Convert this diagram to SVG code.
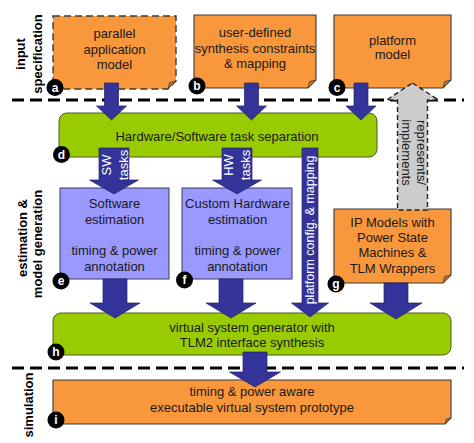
<svg xmlns="http://www.w3.org/2000/svg" width="474" height="443" viewBox="0 0 474 443">
<style>
text{font-family:"Liberation Sans",Arial,sans-serif;}
.t{font-size:13px;fill:#1a1a1a;text-anchor:middle;}
.lane{font-size:13px;font-weight:bold;fill:#000;text-anchor:middle;}
.w{font-size:13px;fill:#fff;text-anchor:middle;}
.g{font-size:13px;fill:#222;text-anchor:middle;}
.or{fill:#F8973B;stroke:#3a3a3a;stroke-width:1.1;}
.fold{fill:#C4752C;stroke:#3a3a3a;stroke-width:0.8;}
.gr{fill:#99CC00;stroke:#4f5a2a;stroke-width:1;}
.lv{fill:#9999FF;stroke:#3a3a5a;stroke-width:1;}
.arr{fill:#333399;stroke:#22226a;stroke-width:0.7;}
.gray{fill:#CCCCCC;stroke:#222;stroke-width:1.4;stroke-dasharray:5 3;}
.sep{stroke:#000;stroke-width:3;stroke-dasharray:12 6;fill:none;}
.c circle{fill:#000;}
.c text{font-size:12px;font-weight:bold;fill:#fff;text-anchor:middle;}
</style>

<!-- separators and lane labels -->
<line class="sep" x1="12" y1="100" x2="464" y2="100"/>
<line class="sep" x1="12" y1="368" x2="464" y2="368"/>
<g transform="rotate(-90)">
<text class="lane" x="-54" y="25">input</text>
<text class="lane" x="-54" y="41.5">specification</text>
<text class="lane" x="-238" y="27">estimation &amp;</text>
<text class="lane" x="-244" y="41.5">model generation</text>
<text class="lane" x="-405" y="33">simulation</text>
</g>

<g id="node-a">
<path d="M53,16 H176 V81 L168,89 H53 Z" fill="#F8973B" stroke="#3a3a3a" stroke-width="1.4" stroke-dasharray="7 4"/>
<path class="fold" d="M176,81 L168,89 L169.6,82.6 Z"/>
<text class="t" x="114.5" y="37.5">parallel</text>
<text class="t" x="114.5" y="53.5">application</text>
<text class="t" x="114.5" y="69">model</text>
<g class="c"><circle cx="55" cy="87.5" r="8.5"/><text x="55" y="91.8">a</text></g>
</g>

<g id="node-b">
<path class="or" d="M194,15 H316 V80 L308,88 H194 Z"/>
<path class="fold" d="M316,80 L308,88 L309.6,81.6 Z"/>
<text class="t" x="255" y="37">user-defined</text>
<text class="t" x="255" y="52.5">synthesis constraints</text>
<text class="t" x="255" y="67.5">&amp; mapping</text>
<g class="c"><circle cx="197" cy="86" r="8.5"/><text x="197" y="90.3">b</text></g>
</g>

<g id="node-c">
<path class="or" d="M334,15 H451 V80 L443,88 H334 Z"/>
<path class="fold" d="M451,80 L443,88 L444.6,81.6 Z"/>
<text class="t" x="392.5" y="44.5">platform</text>
<text class="t" x="392.5" y="59">model</text>
<g class="c"><circle cx="337" cy="87.5" r="8.5"/><text x="337" y="91.8">c</text></g>
</g>

<g id="node-d">
<rect class="gr" x="59" y="113" width="318" height="44" rx="8"/>
<text class="t" x="217" y="140.5">Hardware/Software task separation</text>
<g class="c"><circle cx="61.5" cy="154.5" r="8.5"/><text x="61.5" y="158.8">d</text></g>
</g>

<g id="node-e">
<rect class="lv" x="60" y="188" width="109" height="91"/>
<text class="t" x="114.5" y="207.5">Software</text>
<text class="t" x="114.5" y="223.5">estimation</text>
<text class="t" x="114.5" y="254.5">timing &amp; power</text>
<text class="t" x="114.5" y="270.5">annotation</text>
<g class="c"><circle cx="61" cy="281" r="8.5"/><text x="61" y="285.3">e</text></g>
</g>

<g id="node-f">
<rect class="lv" x="182" y="188" width="110" height="91"/>
<text class="t" x="237.5" y="207.5">Custom Hardware</text>
<text class="t" x="237.5" y="223.5">estimation</text>
<text class="t" x="237.5" y="254.5">timing &amp; power</text>
<text class="t" x="237.5" y="270.5">annotation</text>
<g class="c"><circle cx="184.5" cy="280" r="8.5"/><text x="184.5" y="284.3">f</text></g>
</g>

<g id="node-g">
<path class="or" d="M334,209 H451 V275 L443,283 H334 Z"/>
<path class="fold" d="M451,275 L443,283 L444.6,276.6 Z"/>
<text class="t" x="392.5" y="226.5">IP Models with</text>
<text class="t" x="392.5" y="242.2">Power State</text>
<text class="t" x="392.5" y="257.2">Machines &amp;</text>
<text class="t" x="392.5" y="272.8">TLM Wrappers</text>
<g class="c"><circle cx="336" cy="284" r="8.5"/><text x="336" y="288.3">g</text></g>
</g>

<g id="node-h">
<rect class="gr" x="53" y="313" width="398" height="42" rx="8"/>
<text class="t" x="252" y="332">virtual system generator with</text>
<text class="t" x="252" y="347">TLM2 interface synthesis</text>
<g class="c"><circle cx="56" cy="352" r="8.5"/><text x="56" y="356.3">h</text></g>
</g>

<g id="node-i">
<path class="or" d="M53,380 H451 V418 L445,424 H53 Z"/>
<path class="fold" d="M451,418 L445,424 L446.2,419.2 Z"/>
<text class="t" x="252" y="396">timing &amp; power aware</text>
<text class="t" x="252" y="412">executable virtual system prototype</text>
<g class="c"><circle cx="56" cy="420" r="8.5"/><text x="56" y="424.3">i</text></g>
</g>

<g id="connectors">
<path class="arr" d="M104.5,83 H118.5 V106 H126.5 L111.5,120 L96.5,106 H104.5 Z"/>
<path class="arr" d="M244.5,83 H258.5 V106 H266.5 L251.5,120 L236.5,106 H244.5 Z"/>
<path class="arr" d="M354,83 H368 V106 H376 L361,120 L346,106 H354 Z"/>
<path class="gray" d="M412.5,83 L438.5,100 H427.5 V210 H397.5 V100 H386.5 Z"/>
<g transform="rotate(90)">
<text class="g" x="152.5" y="-416.5">represents/</text>
<text class="g" x="152.5" y="-401.5">implements</text>
</g>
<path class="arr" d="M99,148 H129 V180 H138.5 L114,194 L89.5,180 H99 Z"/>
<path class="arr" d="M222,148 H252 V180 H261.5 L237,194 L212.5,180 H222 Z"/>
<g transform="rotate(-90)">
<text class="w" x="-165" y="110.7">SW</text>
<text class="w" x="-165" y="127.5">tasks</text>
<text class="w" x="-165" y="232.7">HW</text>
<text class="w" x="-165" y="249.5">tasks</text>
</g>
<path class="arr" d="M302,148 H318 V303 H328.5 L310,317 L291.5,303 H302 Z"/>
<text class="w" style="font-size:12.5px" transform="rotate(-90)" x="-230" y="314">platform config. &amp; mapping</text>
<path class="arr" d="M103,279 H127 V303 H140 L115,318 L90,303 H103 Z"/>
<path class="arr" d="M219,279 H243 V303 H256 L231,318 L206,303 H219 Z"/>
<path class="arr" d="M384,283 H408 V303 H422 L396,319 L370,303 H384 Z"/>
<path class="arr" d="M243,352 H267 V372 H280.5 L255,387 L229.5,372 H243 Z"/>
</g>
</svg>
